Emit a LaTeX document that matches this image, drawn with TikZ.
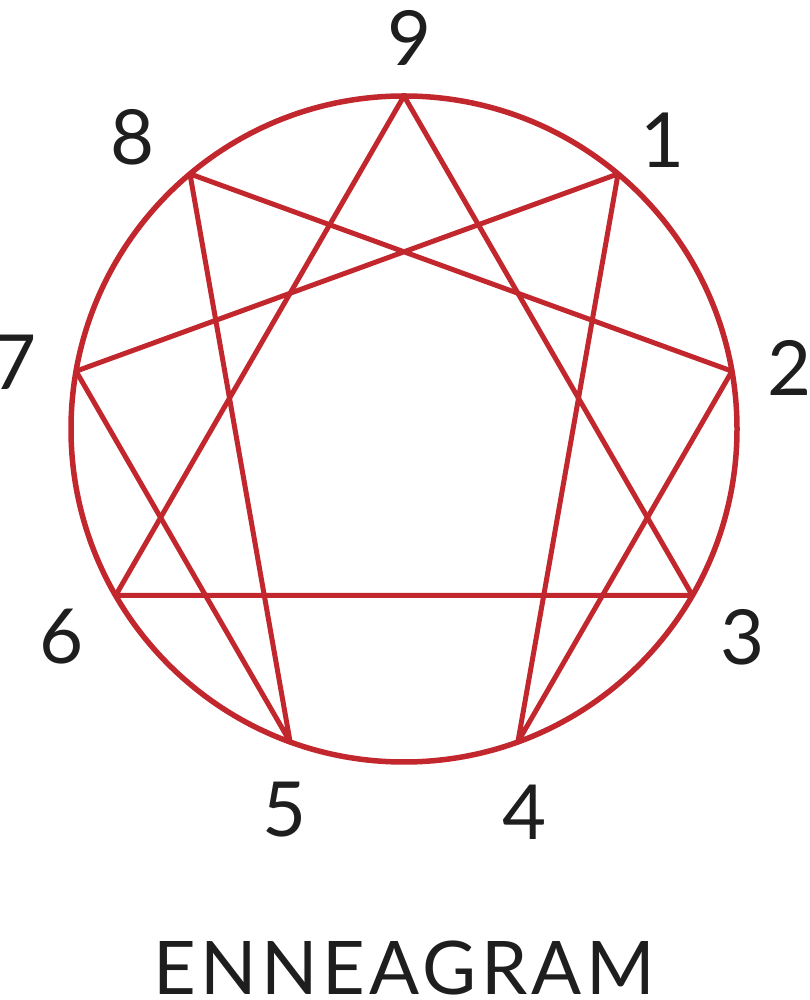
\documentclass[tikz,border=0pt]{standalone}
\usepackage{fontspec}
\setmainfont{Lato}
\newfontfamily\titlefont{Lato}[LetterSpace=6]
\usepackage{tikz}
\definecolor{ennred}{HTML}{C1272D}
\definecolor{ennink}{HTML}{1E1E1E}

\begin{document}
\begin{tikzpicture}[x=1pt,y=1pt]
    \useasboundingbox (0,0) rectangle (810,1000);
    \tikzset{ring/.style={ennred,line width=5.5pt},
      figure/.style={ennred,line width=5pt,line join=round},
      num/.style={ennink,font=\fontsize{76}{76}\selectfont,inner sep=0pt}}
    \coordinate (c) at (404,571);
    % points on the circle, 9 at the top, then clockwise
    \foreach \k in {1,...,9} \coordinate (p\k) at ([shift={(c)}]{90-40*\k}:333);
    \draw[ring] (c) circle (333);
    % triangle 3-6-9
    \draw[figure] (p9) -- (p3) -- (p6) -- cycle;
    % hexad 1-4-2-8-5-7
    \draw[figure] (p1) -- (p4) -- (p2) -- (p8) -- (p5) -- (p7) -- cycle;
    \node[num] (n9) at (410,962) {9};
    \node[num] (n1) at (663,860) {1};
    \node[num] (n2) at (790,632) {2};
    \node[num] (n3) at (743,363) {3};
    \node[num] (n4) at (525,188) {4};
    \node[num] (n5) at (285,190) {5};
    \node[num] (n6) at (62,363) {6};
    \node[num] (n7) at (15,638) {7};
    \node[num] (n8) at (133,863) {8};
    \node[num,font=\titlefont\fontsize{74}{74}\selectfont] (title) at (404,32) {ENNEAGRAM};
\end{tikzpicture}
\end{document}
